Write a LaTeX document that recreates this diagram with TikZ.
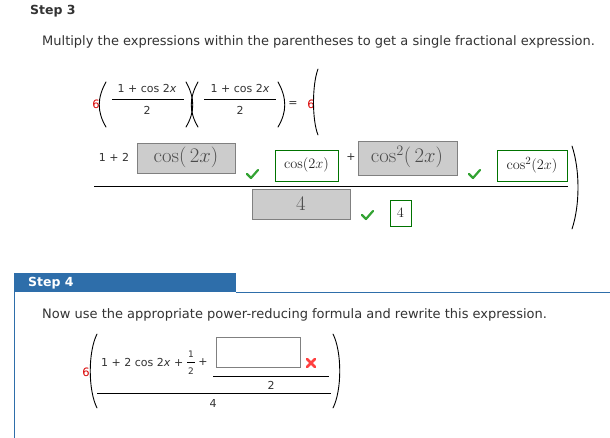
\documentclass[tikz,border=0pt]{standalone}
\usepackage[no-math]{fontspec}
\setmainfont{DejaVu Sans}
\begin{document}
\begin{tikzpicture}[x=1pt,y=-1pt,
  sm/.style={font=\fontsize{11}{13}\selectfont, text=black!80, inner sep=0pt},
  red6/.style={font=\fontsize{11.5}{13}\selectfont, text=red!85!black, inner sep=0pt},
  graybox/.style={draw=black!50, fill=black!20, line width=0.8pt},
  greenbox/.style={draw=green!45!black, line width=0.9pt, fill=white},
  mth/.style={font=\fontsize{19.5}{21}\selectfont, text=black!70, inner sep=0pt},
  mths/.style={font=\fontsize{15}{17}\selectfont, text=black!85, inner sep=0pt},
  paren/.style={line width=0.9pt, line cap=round},
  fracline/.style={line width=0.9pt},
  chk/.style={draw=green!55!black!80, line width=2.2pt, line cap=round, line join=round},
  crs/.style={draw=red!75, line width=2.6pt, line cap=round}]
\definecolor{stepblue}{RGB}{46,110,170}
\useasboundingbox (0,0) rectangle (610,438);
\fill[white] (0,0) rectangle (610,438);

\node[anchor=west, font=\fontsize{12.5}{14}\selectfont\bfseries, text=black!80, inner sep=0pt] (s3) at (30,11) {Step 3};
\node[anchor=west, font=\fontsize{13}{15}\selectfont, text=black!80, inner sep=0pt] (t3) at (42,42) {Multiply the expressions within the parentheses to get a single fractional expression.};

% row 1
\node[red6] (r6a) at (96,104) {6};
\draw[paren] (106,82) .. controls (97,98) and (97,112) .. (106,127);
\node[sm] (n1) at (147,88) {1 + cos 2\textit{x}};
\draw[fracline] (112,99) -- (184,99);
\node[sm] (d1) at (147,110) {2};
\draw[paren] (186,82) .. controls (195,98) and (195,112) .. (186,127);
\draw[paren] (198,82) .. controls (189,98) and (189,112) .. (198,127);
\node[sm] (n2) at (240,88) {1 + cos 2\textit{x}};
\draw[fracline] (204,99) -- (276,99);
\node[sm] (d2) at (240,110) {2};
\draw[paren] (278,82) .. controls (287,98) and (287,112) .. (278,127);
\node[sm] (eq) at (293,104) {=};
\node[red6] (r6b) at (311,104) {6};
\draw[paren] (318,69) .. controls (312,85) and (312,120) .. (318,135);

% row 2
\node[sm] (one2) at (114,157) {1 + 2};
\draw[graybox] (137,143) rectangle (235,173);
\node[mth] (g1) at (186,157) {$\cos\!\big(\,2x\big)$};
\draw[chk] (247,174) -- (251,178) -- (258,170);
\draw[greenbox] (275,150) rectangle (338,181);
\node[mths] (gb1) at (306.5,165) {$\cos(2x)$};
\node[sm] (plus) at (351,157) {+};
\draw[graybox] (358,141) rectangle (457,175);
\node[mth] (g2) at (407,157) {$\cos^2\!\big(\,2x\big)$};
\draw[chk] (469,174) -- (473,178) -- (480,170);
\draw[greenbox] (497,150) rectangle (567,181);
\node[mths] (gb2) at (532,165) {$\cos^2(2x)$};
\draw[fracline] (94,186) -- (568,186);
\draw[graybox] (252,189) rectangle (350,219);
\node[mth] (g3) at (301,204) {$4$};
\draw[chk] (362,215) -- (366,219) -- (373,211);
\draw[greenbox] (390,200) rectangle (411,226);
\node[mths] (gb3) at (400.5,213) {$4$};
\draw[paren] (572,146) .. controls (580,170) and (580,205) .. (572,229);

% Step 4
\fill[stepblue] (14,273) rectangle (236,292);
\draw[stepblue, line width=1pt] (236,292) -- (610,292);
\draw[stepblue, line width=1pt] (14.5,273) -- (14.5,438);
\node[anchor=west, font=\fontsize{12.5}{14}\selectfont\bfseries, text=white, inner sep=0pt] (s4) at (28,283) {Step 4};
\node[anchor=west, font=\fontsize{13}{15}\selectfont, text=black!80, inner sep=0pt] (t4) at (42,315) {Now use the appropriate power-reducing formula and rewrite this expression.};

\node[red6] (r6c) at (86,372) {6};
\draw[paren] (97,334) .. controls (88,352) and (88,390) .. (97,408);
\node[sm, anchor=west] (n4) at (101,362) {1 + 2 cos 2\textit{x} +};
\node[font=\fontsize{9}{10}\selectfont, text=black!80, inner sep=0pt] (h1) at (191,354) {1};
\draw[line width=0.6pt] (187,362) -- (195,362);
\node[font=\fontsize{9}{10}\selectfont, text=black!80, inner sep=0pt] (h2) at (191,371) {2};
\node[sm] (p4) at (203,362) {+};
\draw[draw=black!50, line width=0.8pt, fill=white] (216,337) rectangle (300,367);
\draw[crs] (307,359) -- (315,367);
\draw[crs] (315,359) -- (307,367);
\draw[fracline] (213,376) -- (329,376);
\node[sm] (two4) at (271,385) {2};
\draw[fracline] (97,393) -- (331,393);
\node[sm] (four4) at (213,403) {4};
\draw[paren] (333,334) .. controls (342,352) and (342,390) .. (333,408);
\end{tikzpicture}
\end{document}
